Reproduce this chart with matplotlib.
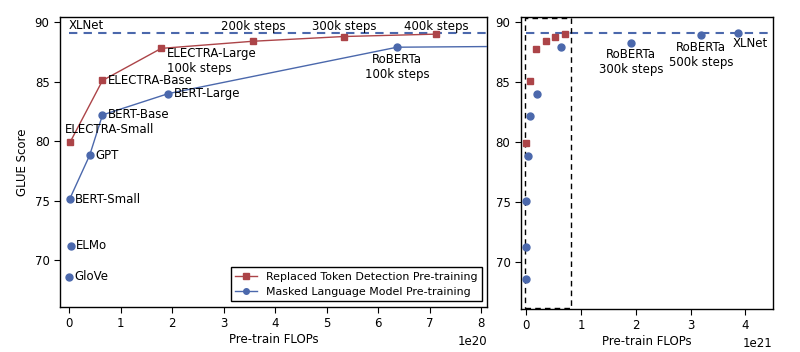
import matplotlib

matplotlib.use("Agg")
import matplotlib.pyplot as plt
from matplotlib.patches import Rectangle

# * данные (FLOPs, GLUE)
rtd_flops = [0.02e20, 0.65e20, 1.79e20, 3.57e20, 5.34e20, 7.13e20]
rtd_glue = [79.9, 85.1, 87.8, 88.4, 88.8, 89.0]
rtd_labels = ["ELECTRA-Small", "ELECTRA-Base", "ELECTRA-Large\n100k steps",
              "200k steps", "300k steps", "400k steps"]

mlm_flops = [0.01e20, 0.4e20, 0.65e20, 1.93e20, 6.37e20, 19.1e20, 31.9e20]
mlm_glue = [75.1, 78.8, 82.2, 84.0, 87.9, 88.3, 88.9]
mlm_labels = ["BERT-Small", "GPT", "BERT-Base", "BERT-Large", "RoBERTa\n100k steps",
              "RoBERTa\n300k steps", "RoBERTa\n500k steps"]

other_flops = [0.0, 0.03e20]
other_glue = [68.6, 71.2]
other_labels = ["GloVe", "ELMo"]

xlnet_flops = 38.6e20
xlnet_glue = 89.1

red = "#AC4448"
blue = "#4B68AC"
fs = 8.5
ms = 5

plt.rcParams["font.family"] = ["DejaVu Sans"]
plt.rcParams["font.size"] = fs

fig = plt.figure(figsize=(8, 3.52), dpi=100)
ax1 = fig.add_axes([0.075, 0.128, 0.534, 0.824])
ax2 = fig.add_axes([0.651, 0.122, 0.315, 0.83])

xlim1 = (-0.175e20, 8.12e20)
ylim = (66.05, 90.45)

# * левый график: линии с маркерами
ax1.plot(rtd_flops, rtd_glue, color=red, marker="s", markersize=ms,
         linewidth=1, label="Replaced Token Detection Pre-training", zorder=3)
ax1.plot(mlm_flops, mlm_glue, color=blue, marker="o", markersize=ms,
         linewidth=1, label="Masked Language Model Pre-training", zorder=3)
ax1.plot(other_flops, other_glue, color=blue, marker="o", markersize=ms,
         linestyle="none", zorder=3)

# * правый график: только точки
ax2.plot(rtd_flops, rtd_glue, color=red, marker="s", markersize=ms,
         linestyle="none", zorder=3)
ax2.plot(mlm_flops + other_flops + [xlnet_flops], mlm_glue + other_glue + [xlnet_glue],
         color=blue, marker="o", markersize=ms, linestyle="none", zorder=3)

for ax in (ax1, ax2):
    ax.hlines(xlnet_glue, 0, 1e22, colors=blue, linestyles=(0, (4, 3)), linewidth=1.5)
    ax.tick_params(direction="out", length=4, labelsize=fs)
    for s in ax.spines.values():
        s.set_linewidth(1)

ax1.set_xlim(*xlim1)
ax1.set_ylim(*ylim)
ax1.set_yticks([70, 75, 80, 85, 90])
ax1.set_xticks([i * 1e20 for i in range(9)])
ax1.set_xlabel("Pre-train FLOPs", fontsize=fs, labelpad=2)
ax1.set_ylabel("GLUE Score", fontsize=fs)

for x, y, t in zip(rtd_flops, rtd_glue, rtd_labels):
    if t == "ELECTRA-Small":
        ax1.annotate(t, (x, y), xytext=(-4, 9), textcoords="offset points", va="center")
    elif t.startswith("ELECTRA-Large"):
        ax1.annotate(t, (x, y), xytext=(4, 1), textcoords="offset points", va="top")
    elif t == "ELECTRA-Base":
        ax1.annotate(t, (x, y), xytext=(4, 0), textcoords="offset points", va="center")
    else:
        ax1.text(x, 89.62, t, va="center", ha="center")

for x, y, t in zip(mlm_flops[:5], mlm_glue[:5], mlm_labels[:5]):
    if t.startswith("RoBERTa"):
        ax1.annotate(t, (x, y), xytext=(0, -4), textcoords="offset points",
                     va="top", ha="center")
    else:
        ax1.annotate(t, (x, y), xytext=(4, 0), textcoords="offset points", va="center")

for x, y, t in zip(other_flops, other_glue, other_labels):
    ax1.annotate(t, (x, y), xytext=(4, 0), textcoords="offset points", va="center")

ax1.annotate("XLNet", (0, xlnet_glue), xytext=(0, 1), textcoords="offset points",
             va="bottom")

ax1.legend(loc="lower right", fancybox=False, edgecolor="black", fontsize=7.9,
           handlelength=2, borderpad=0.4, framealpha=1, markerscale=0.8)

ax2.set_xlim(-0.097e21, 4.5e21)
ax2.set_ylim(*ylim)
ax2.set_yticks([70, 75, 80, 85, 90])
ax2.set_xticks([i * 1e21 for i in range(5)])
ax2.set_xlabel("Pre-train FLOPs", fontsize=fs, labelpad=2)

for x, y, t in zip(mlm_flops[5:], mlm_glue[5:], mlm_labels[5:]):
    ax2.annotate(t, (x, y), xytext=(0, -4), textcoords="offset points",
                 va="top", ha="center")
ax2.annotate("XLNet", (xlnet_flops, xlnet_glue), xytext=(9, -3),
             textcoords="offset points", va="top", ha="center")

# * рамка, показывающая область левого графика
ax2.add_patch(Rectangle((xlim1[0], ylim[0] + 0.1), xlim1[1] - xlim1[0],
                        ylim[1] - ylim[0] - 0.2, fill=False, edgecolor="black",
                        linestyle=(0, (4, 3)), linewidth=1, zorder=2))

fig.savefig("out.png", dpi=100)
plt.close()
